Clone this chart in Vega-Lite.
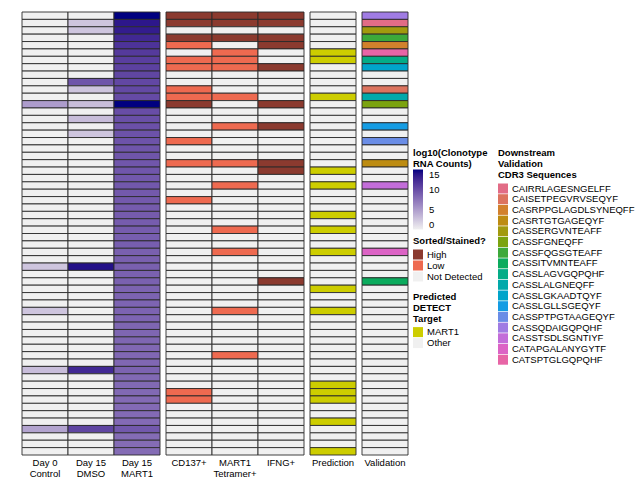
{
  "$schema": "https://vega.github.io/schema/vega-lite/v6.json",
  "width": 386,
  "height": 443,
  "padding": {"left": 21, "top": 11, "right": 5, "bottom": 5},
  "background": "white",
  "config": {
    "view": {"stroke": null},
    "font": "Liberation Sans",
    "axis": {
      "domain": false,
      "ticks": false,
      "grid": false,
      "labelAngle": 0,
      "labelFontSize": 9.5,
      "labelColor": "black",
      "labelPadding": 2,
      "labelLineHeight": 11.5,
      "title": null,
      "orient": "bottom"
    },
    "legend": {
      "padding": 0,
      "titleFontSize": 9.5,
      "titleFontWeight": "bold",
      "titleColor": "black",
      "titleLineHeight": 11,
      "titlePadding": 4,
      "labelFontSize": 9.5,
      "labelColor": "black",
      "labelOffset": 4,
      "symbolType": "square",
      "symbolSize": 100,
      "symbolStrokeWidth": 0,
      "symbolOpacity": 1,
      "rowPadding": 1,
      "gradientLength": 60,
      "gradientThickness": 10,
      "gradientStrokeWidth": 0
    }
  },
  "data": {
    "values": [
      {"id": 1, "day0": 0, "day15_dmso": 0, "day15_mart1": 15, "cd137": "High", "tetramer": "High", "ifng": "High", "prediction": "Other", "validation": "CASSQDAIGQPQHF"},
      {"id": 2, "day0": 0, "day15_dmso": 2.5, "day15_mart1": 13.6, "cd137": "High", "tetramer": "High", "ifng": "High", "prediction": "Other", "validation": "CAIRRLAGESNGELFF"},
      {"id": 3, "day0": 0, "day15_dmso": 2.5, "day15_mart1": 13.3, "cd137": "Not Detected", "tetramer": "Not Detected", "ifng": "Not Detected", "prediction": "Other", "validation": "CASSERGVNTEAFF"},
      {"id": 4, "day0": 0, "day15_dmso": 0, "day15_mart1": 12.5, "cd137": "High", "tetramer": "High", "ifng": "High", "prediction": "Other", "validation": "CASSFQGSGTEAFF"},
      {"id": 5, "day0": 0, "day15_dmso": 0, "day15_mart1": 11.8, "cd137": "Low", "tetramer": "Not Detected", "ifng": "High", "prediction": "Other", "validation": "CASRPPGLAGDLSYNEQFF"},
      {"id": 6, "day0": 0, "day15_dmso": 0, "day15_mart1": 11.3, "cd137": "Not Detected", "tetramer": "Low", "ifng": "Not Detected", "prediction": "MART1", "validation": "CATSPTGLGQPQHF"},
      {"id": 7, "day0": 0, "day15_dmso": 0, "day15_mart1": 11, "cd137": "Low", "tetramer": "Low", "ifng": "Not Detected", "prediction": "MART1", "validation": "CASSLAGVGQPQHF"},
      {"id": 8, "day0": 0, "day15_dmso": 0, "day15_mart1": 10.8, "cd137": "Low", "tetramer": "Low", "ifng": "High", "prediction": "Other", "validation": "CASSLGKAADTQYF"},
      {"id": 9, "day0": 0, "day15_dmso": 0, "day15_mart1": 10.5, "cd137": "Not Detected", "tetramer": "Not Detected", "ifng": "Not Detected", "prediction": "Other"},
      {"id": 10, "day0": 0, "day15_dmso": 9.5, "day15_mart1": 10.4, "cd137": "Not Detected", "tetramer": "Not Detected", "ifng": "Not Detected", "prediction": "Other"},
      {"id": 11, "day0": 0, "day15_dmso": 2.5, "day15_mart1": 10.3, "cd137": "Low", "tetramer": "Not Detected", "ifng": "Not Detected", "prediction": "Other", "validation": "CAISETPEGVRVSEQYF"},
      {"id": 12, "day0": 0, "day15_dmso": 0, "day15_mart1": 10.2, "cd137": "Low", "tetramer": "Low", "ifng": "Not Detected", "prediction": "MART1", "validation": "CASSLALGNEQFF"},
      {"id": 13, "day0": 5, "day15_dmso": 3, "day15_mart1": 15, "cd137": "High", "tetramer": "Not Detected", "ifng": "High", "prediction": "Other", "validation": "CASSFGNEQFF"},
      {"id": 14, "day0": 0, "day15_dmso": 0, "day15_mart1": 10, "cd137": "Not Detected", "tetramer": "Not Detected", "ifng": "Not Detected", "prediction": "Other"},
      {"id": 15, "day0": 0, "day15_dmso": 3, "day15_mart1": 9.9, "cd137": "Not Detected", "tetramer": "Not Detected", "ifng": "Not Detected", "prediction": "Other"},
      {"id": 16, "day0": 0, "day15_dmso": 0, "day15_mart1": 9.8, "cd137": "Not Detected", "tetramer": "Low", "ifng": "High", "prediction": "Other", "validation": "CASSLGLLSGEQYF"},
      {"id": 17, "day0": 0, "day15_dmso": 2.5, "day15_mart1": 9.7, "cd137": "Not Detected", "tetramer": "Not Detected", "ifng": "Not Detected", "prediction": "Other"},
      {"id": 18, "day0": 0, "day15_dmso": 0, "day15_mart1": 9.6, "cd137": "Low", "tetramer": "Not Detected", "ifng": "Not Detected", "prediction": "Other", "validation": "CASSPTPGTAAGEQYF"},
      {"id": 19, "day0": 0, "day15_dmso": 0, "day15_mart1": 9.5, "cd137": "Not Detected", "tetramer": "Not Detected", "ifng": "Not Detected", "prediction": "Other"},
      {"id": 20, "day0": 0, "day15_dmso": 0, "day15_mart1": 9.5, "cd137": "Not Detected", "tetramer": "Not Detected", "ifng": "Not Detected", "prediction": "Other"},
      {"id": 21, "day0": 0, "day15_dmso": 0, "day15_mart1": 9.4, "cd137": "Low", "tetramer": "Low", "ifng": "High", "prediction": "Other", "validation": "CASRTGTGAGEQYF"},
      {"id": 22, "day0": 0, "day15_dmso": 0, "day15_mart1": 9.4, "cd137": "Not Detected", "tetramer": "Not Detected", "ifng": "High", "prediction": "MART1"},
      {"id": 23, "day0": 0, "day15_dmso": 0, "day15_mart1": 9.3, "cd137": "Not Detected", "tetramer": "Not Detected", "ifng": "Not Detected", "prediction": "Other"},
      {"id": 24, "day0": 0, "day15_dmso": 0, "day15_mart1": 9.3, "cd137": "Not Detected", "tetramer": "Low", "ifng": "Not Detected", "prediction": "MART1", "validation": "CASSTSDLSGNTIYF"},
      {"id": 25, "day0": 0, "day15_dmso": 0, "day15_mart1": 9.2, "cd137": "Not Detected", "tetramer": "Not Detected", "ifng": "Not Detected", "prediction": "Other"},
      {"id": 26, "day0": 0, "day15_dmso": 0, "day15_mart1": 9.2, "cd137": "Low", "tetramer": "Not Detected", "ifng": "Not Detected", "prediction": "Other"},
      {"id": 27, "day0": 0, "day15_dmso": 0, "day15_mart1": 9.1, "cd137": "Not Detected", "tetramer": "Not Detected", "ifng": "Not Detected", "prediction": "Other"},
      {"id": 28, "day0": 0, "day15_dmso": 0, "day15_mart1": 9.1, "cd137": "Not Detected", "tetramer": "Not Detected", "ifng": "Not Detected", "prediction": "MART1"},
      {"id": 29, "day0": 0, "day15_dmso": 0, "day15_mart1": 9, "cd137": "Not Detected", "tetramer": "Not Detected", "ifng": "Not Detected", "prediction": "Other"},
      {"id": 30, "day0": 0, "day15_dmso": 0, "day15_mart1": 9, "cd137": "Not Detected", "tetramer": "Low", "ifng": "Not Detected", "prediction": "MART1"},
      {"id": 31, "day0": 0, "day15_dmso": 0, "day15_mart1": 8.9, "cd137": "Not Detected", "tetramer": "Not Detected", "ifng": "Not Detected", "prediction": "Other"},
      {"id": 32, "day0": 0, "day15_dmso": 0, "day15_mart1": 8.9, "cd137": "Not Detected", "tetramer": "Not Detected", "ifng": "Not Detected", "prediction": "Other"},
      {"id": 33, "day0": 0, "day15_dmso": 0, "day15_mart1": 8.8, "cd137": "Not Detected", "tetramer": "Low", "ifng": "Not Detected", "prediction": "MART1", "validation": "CATAPGALANYGYTF"},
      {"id": 34, "day0": 0, "day15_dmso": 0, "day15_mart1": 8.8, "cd137": "Not Detected", "tetramer": "Not Detected", "ifng": "Not Detected", "prediction": "Other"},
      {"id": 35, "day0": 2.5, "day15_dmso": 14, "day15_mart1": 8.8, "cd137": "Not Detected", "tetramer": "Not Detected", "ifng": "Not Detected", "prediction": "Other"},
      {"id": 36, "day0": 0, "day15_dmso": 0, "day15_mart1": 8.7, "cd137": "Not Detected", "tetramer": "Not Detected", "ifng": "Not Detected", "prediction": "Other"},
      {"id": 37, "day0": 0, "day15_dmso": 0, "day15_mart1": 8.7, "cd137": "Not Detected", "tetramer": "Not Detected", "ifng": "High", "prediction": "Other", "validation": "CASSITVMNTEAFF"},
      {"id": 38, "day0": 0, "day15_dmso": 0, "day15_mart1": 8.6, "cd137": "Not Detected", "tetramer": "Not Detected", "ifng": "Not Detected", "prediction": "MART1"},
      {"id": 39, "day0": 0, "day15_dmso": 0, "day15_mart1": 8.6, "cd137": "Not Detected", "tetramer": "Not Detected", "ifng": "Not Detected", "prediction": "Other"},
      {"id": 40, "day0": 0, "day15_dmso": 0, "day15_mart1": 8.5, "cd137": "Not Detected", "tetramer": "Not Detected", "ifng": "Not Detected", "prediction": "Other"},
      {"id": 41, "day0": 2.5, "day15_dmso": 0, "day15_mart1": 8.6, "cd137": "Not Detected", "tetramer": "Low", "ifng": "Not Detected", "prediction": "MART1"},
      {"id": 42, "day0": 0, "day15_dmso": 0, "day15_mart1": 8.5, "cd137": "Not Detected", "tetramer": "Not Detected", "ifng": "Not Detected", "prediction": "Other"},
      {"id": 43, "day0": 0, "day15_dmso": 0, "day15_mart1": 8.4, "cd137": "Not Detected", "tetramer": "Not Detected", "ifng": "Not Detected", "prediction": "Other"},
      {"id": 44, "day0": 0, "day15_dmso": 0, "day15_mart1": 8.4, "cd137": "Not Detected", "tetramer": "Not Detected", "ifng": "Not Detected", "prediction": "Other"},
      {"id": 45, "day0": 0, "day15_dmso": 0, "day15_mart1": 8.4, "cd137": "Not Detected", "tetramer": "Not Detected", "ifng": "Not Detected", "prediction": "Other"},
      {"id": 46, "day0": 0, "day15_dmso": 0, "day15_mart1": 8.3, "cd137": "Not Detected", "tetramer": "Not Detected", "ifng": "Not Detected", "prediction": "Other"},
      {"id": 47, "day0": 0, "day15_dmso": 0, "day15_mart1": 8.3, "cd137": "Not Detected", "tetramer": "Low", "ifng": "Not Detected", "prediction": "Other"},
      {"id": 48, "day0": 0, "day15_dmso": 0, "day15_mart1": 8.3, "cd137": "Not Detected", "tetramer": "Not Detected", "ifng": "Not Detected", "prediction": "Other"},
      {"id": 49, "day0": 3, "day15_dmso": 12.5, "day15_mart1": 8.6, "cd137": "Not Detected", "tetramer": "Not Detected", "ifng": "Not Detected", "prediction": "Other"},
      {"id": 50, "day0": 0, "day15_dmso": 0, "day15_mart1": 8.2, "cd137": "Not Detected", "tetramer": "Not Detected", "ifng": "Not Detected", "prediction": "Other"},
      {"id": 51, "day0": 0, "day15_dmso": 0, "day15_mart1": 8.2, "cd137": "Not Detected", "tetramer": "Not Detected", "ifng": "Not Detected", "prediction": "MART1"},
      {"id": 52, "day0": 0, "day15_dmso": 0, "day15_mart1": 8.2, "cd137": "Low", "tetramer": "Not Detected", "ifng": "Not Detected", "prediction": "MART1"},
      {"id": 53, "day0": 0, "day15_dmso": 0, "day15_mart1": 8.1, "cd137": "Low", "tetramer": "Not Detected", "ifng": "Not Detected", "prediction": "MART1"},
      {"id": 54, "day0": 0, "day15_dmso": 0, "day15_mart1": 8.1, "cd137": "Not Detected", "tetramer": "Not Detected", "ifng": "Not Detected", "prediction": "Other"},
      {"id": 55, "day0": 0, "day15_dmso": 0, "day15_mart1": 8.1, "cd137": "Not Detected", "tetramer": "Not Detected", "ifng": "Not Detected", "prediction": "Other"},
      {"id": 56, "day0": 0, "day15_dmso": 0, "day15_mart1": 8.1, "cd137": "Not Detected", "tetramer": "Not Detected", "ifng": "Not Detected", "prediction": "MART1"},
      {"id": 57, "day0": 4.5, "day15_dmso": 10.5, "day15_mart1": 9.3, "cd137": "Not Detected", "tetramer": "Not Detected", "ifng": "Not Detected", "prediction": "Other"},
      {"id": 58, "day0": 0, "day15_dmso": 0, "day15_mart1": 8, "cd137": "Not Detected", "tetramer": "Not Detected", "ifng": "Not Detected", "prediction": "Other"},
      {"id": 59, "day0": 0, "day15_dmso": 0, "day15_mart1": 8, "cd137": "Not Detected", "tetramer": "Not Detected", "ifng": "Not Detected", "prediction": "Other"},
      {"id": 60, "day0": 0, "day15_dmso": 0, "day15_mart1": 8, "cd137": "Not Detected", "tetramer": "Not Detected", "ifng": "Not Detected", "prediction": "MART1"}
    ]
  },
  "encoding": {
    "y": {"field": "id", "type": "ordinal", "axis": null, "scale": {"paddingInner": 0, "paddingOuter": 0}}
  },
  "layer": [
    {
      "transform": [{"fold": ["day0", "day15_dmso", "day15_mart1"], "as": ["column", "count"]}],
      "mark": {"type": "rect", "stroke": "#2a2a2a", "strokeWidth": 0.9},
      "encoding": {
        "x": {
          "field": "column", "type": "nominal",
          "scale": {"domain": ["day0", "day15_dmso", "day15_mart1"], "range": [0, 138], "paddingInner": 0, "paddingOuter": 0},
          "axis": {"orient": "bottom", "labelExpr": "datum.value == 'day0' ? ['Day 0', 'Control'] : datum.value == 'day15_dmso' ? ['Day 15', 'DMSO'] : ['Day 15', 'MART1']"}
        },
        "color": {
          "field": "count", "type": "quantitative",
          "scale": {"domain": [0, 15], "range": ["#F0F0F0", "#000080"], "interpolate": "lab"},
          "legend": {
            "title": ["log10(Clonotype", "RNA Counts)"],
            "orient": "none", "legendX": 391, "legendY": 136,
            "direction": "vertical", "values": [0, 5, 10, 15], "labelOffset": 6, "titlePadding": 1
          }
        }
      }
    },
    {
      "transform": [{"fold": ["cd137", "tetramer", "ifng"], "as": ["column", "status"]}],
      "mark": {"type": "rect", "stroke": "#2a2a2a", "strokeWidth": 0.9},
      "encoding": {
        "x": {
          "field": "column", "type": "nominal",
          "scale": {"domain": ["cd137", "tetramer", "ifng"], "range": [144, 282], "paddingInner": 0, "paddingOuter": 0},
          "axis": {"orient": "bottom", "labelExpr": "datum.value == 'cd137' ? 'CD137+' : datum.value == 'tetramer' ? ['MART1', 'Tetramer+'] : 'IFNG+'"}
        },
        "color": {
          "field": "status", "type": "nominal",
          "scale": {"domain": ["High", "Low", "Not Detected"], "range": ["#8B3A2F", "#EE6A50", "#F0F0F0"]},
          "legend": {"title": "Sorted/Stained?", "orient": "none", "legendX": 391, "legendY": 224}
        }
      }
    },
    {
      "transform": [{"fold": ["prediction"], "as": ["column", "target"]}],
      "mark": {"type": "rect", "stroke": "#2a2a2a", "strokeWidth": 0.9},
      "encoding": {
        "x": {
          "field": "column", "type": "nominal",
          "scale": {"domain": ["prediction"], "range": [288, 334], "paddingInner": 0, "paddingOuter": 0},
          "axis": {"orient": "bottom", "labelExpr": "'Prediction'"}
        },
        "color": {
          "field": "target", "type": "nominal",
          "scale": {"domain": ["MART1", "Other"], "range": ["#CDCD00", "#F0F0F0"]},
          "legend": {"title": ["Predicted", "DETECT", "Target"], "orient": "none", "legendX": 391, "legendY": 280, "titleLineHeight": 10.8}
        }
      }
    },
    {
      "transform": [{"fold": ["validation"], "as": ["column", "cdr3"]}],
      "mark": {"type": "rect", "stroke": "#2a2a2a", "strokeWidth": 0.9},
      "encoding": {
        "x": {
          "field": "column", "type": "nominal",
          "scale": {"domain": ["validation"], "range": [340, 386], "paddingInner": 0, "paddingOuter": 0},
          "axis": {"orient": "bottom", "labelExpr": "'Validation'"}
        },
        "color": {
          "condition": {"test": "!datum.cdr3", "value": "#F0F0F0"},
          "field": "cdr3", "type": "nominal",
          "scale": {
            "domain": ["CAIRRLAGESNGELFF", "CAISETPEGVRVSEQYF", "CASRPPGLAGDLSYNEQFF", "CASRTGTGAGEQYF", "CASSERGVNTEAFF", "CASSFGNEQFF", "CASSFQGSGTEAFF", "CASSITVMNTEAFF", "CASSLAGVGQPQHF", "CASSLALGNEQFF", "CASSLGKAADTQYF", "CASSLGLLSGEQYF", "CASSPTPGTAAGEQYF", "CASSQDAIGQPQHF", "CASSTSDLSGNTIYF", "CATAPGALANYGYTF", "CATSPTGLGQPQHF"],
            "range": ["#E26C86", "#DC735E", "#D2812C", "#BD8C12", "#A29A0E", "#7BA30F", "#3DA93A", "#0BAB5D", "#04AC87", "#02A9AA", "#01A4CA", "#149CE3", "#6A8DE6", "#A07CE3", "#C36DD9", "#DC63C5", "#E765A6"]
          },
          "legend": {"title": ["Downstream", "Validation", "CDR3 Sequences"], "orient": "none", "legendX": 476, "legendY": 136, "rowPadding": 0.7}
        }
      }
    }
  ],
  "resolve": {"scale": {"x": "independent", "color": "independent"}}
}
